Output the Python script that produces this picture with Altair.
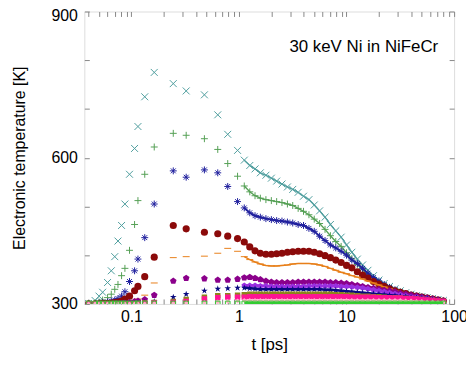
import altair as alt
import pandas as pd

# ---------------- data ----------------
T = [0.040, 0.046, 0.050, 0.054, 0.060, 0.065, 0.070, 0.075, 0.081, 0.087, 0.096,
     0.107, 0.115, 0.133, 0.163, 0.245, 0.323, 0.477, 0.635, 0.786, 0.970, 1.12,
     1.26, 1.41, 1.58, 1.78, 2.00, 2.24, 2.51, 2.82, 3.16, 3.55, 3.98, 4.47, 5.01,
     5.62, 6.31, 7.08, 7.94, 8.91, 10.0, 11.2, 12.6, 14.1, 15.8, 17.8, 20.0, 22.4,
     25.1, 28.2, 31.6, 35.5, 39.8, 44.7, 50.1, 56.2, 63.1, 70.8, 79.4]

TEAL_X = [301, 307, 316, 324, 344, 368, 397, 429, 461, 505, 566, 619, 664, 725, 775, 752, 737, 729, 688, 648, 615, 595,
          584, 577, 569, 564, 558, 552, 546, 540, 535, 529, 521, 514, 503, 491, 478, 463, 450, 437, 421, 406, 392,
          380, 369, 358, 349, 342, 336, 331, 327, 323, 320, 317, 315, 313, 311, 309, 307]
GREEN_PLUS = [300, 302, 304, 308, 313, 320, 330, 340, 358, 373, 410, 463, 512, 566, 622, 650, 646, 639, 617, 588, 562, 542,
              530, 522, 517, 514, 512, 510, 508, 505, 502, 496, 490, 483, 474, 465, 453, 440, 428, 418, 405, 393, 381,
              370, 360, 351, 344, 338, 333, 328, 325, 321, 318, 316, 314, 312, 310, 308, 306]
BLUE_STAR = [300, 301, 302, 303, 304, 306, 308, 311, 316, 325, 346, 368, 392, 436, 505, 573, 560, 575, 569, 541, 510, 497,
             487, 481, 478, 475, 473, 471, 470, 468, 466, 463, 461, 455, 449, 439, 430, 421, 415, 408, 400, 390, 383,
             373, 363, 354, 347, 340, 334, 329, 324, 321, 318, 316, 314, 312, 310, 308, 306]
RED_BALL = [300, 300, 300, 301, 301, 302, 303, 304, 306, 310, 316, 327, 336, 356, 396, 461, 454, 447, 444, 439, 434, 427,
            417, 409, 404, 402, 402, 403, 404, 406, 407, 408, 408, 408, 406, 403, 399, 395, 390, 385, 379, 374, 366,
            359, 353, 346, 341, 336, 331, 327, 324, 321, 318, 316, 314, 312, 310, 308, 306]
ORANGE_DASH = [300, 300, 300, 300, 301, 301, 301, 302, 302, 303, 304, 307, 310, 318, 343, 395, 397, 398, 404, 414, 408, 397,
               391, 386, 382, 379, 378, 378, 379, 380, 382, 383, 383, 383, 382, 380, 377, 373, 369, 365, 362, 358, 355,
               351, 347, 343, 339, 335, 331, 327, 324, 321, 318, 316, 314, 312, 310, 308, 306]
PURPLE_PENT = [300, 300, 300, 300, 300, 300, 301, 301, 301, 302, 303, 305, 306, 309, 318, 347, 353, 352, 349, 349, 351, 354,
               355, 353, 350, 347, 345, 344, 344, 344, 344, 345, 345, 345, 345, 345, 345, 344, 344, 343, 342, 340, 338,
               336, 334, 332, 330, 328, 327, 325, 322, 320, 318, 316, 314, 312, 310, 308, 306]
VIOLET = [None, None, None, None, None, None, None, None, None, None, None, None, None, None, None, None, None, None,
          None, None, None, 338,
          338, 338, 337, 337, 336, 336, 336, 336, 336, 336, 336, 337, 337, 337, 337, 337, 337, 336, 336, 335, 334,
          333, 331, 329, 327, 325, 323, 321, 319, 317, 315, 314, 312, 311, 309, 307, 305]
NAVY_STAR = [300, 300, 300, 300, 300, 300, 300, 300, 300, 300, 301, 301, 302, 303, 305, 314, 320, 327, 331, 332, 333, 333,
             332, 331, 330, 330, 330, 330, 330, 330, 330, 330, 330, 330, 330, 330, 329, 329, 328, 327, 326, 325, 324,
             323, 322, 321, 320, 319, 318, 317, 316, 315, 314, 313, 312, 311, 309, 307, 305]
OLIVE = [300, 300, 300, 300, 300, 300, 300, 300, 300, 300, 300, 300, 301, 302, 303, 305, 309, 314, 317, 317, 318, 319,
         320, 320, 320, 320, 320, 320, 320, 320, 320, 320, 320, 320, 320, 320, 320, 320, 319, 319, 318, 318, 317,
         316, 316, 315, 315, 314, 313, 313, 312, 311, 310, 310, 309, 308, 307, 306, 305]
PINK = [300, 300, 300, 300, 300, 300, 300, 300, 300, 300, 300, 300, 300, 301, 302, 303, 305, 310, 313, 314, 314, 314,
        315, 315, 315, 315, 315, 315, 315, 315, 315, 315, 315, 315, 315, 315, 315, 315, 315, 315, 315, 314, 314,
        314, 314, 314, 313, 313, 313, 312, 312, 311, 311, 310, 309, 308, 307, 306, 305]
LIGHT_PINK = [300, 300, 300, 300, 300, 300, 300, 300, 300, 300, 300, 300, 300, 300, 301, 301, 302, 303, 304, 305, 306, 307,
              307, 307, 307, 307, 307, 307, 307, 307, 307, 307, 307, 307, 307, 307, 307, 307, 307, 307, 307, 307, 307,
              307, 307, 307, 307, 307, 307, 307, 307, 306, 306, 305, 305, 304, 304, 303, 303]
GREEN_BASE = [301, 301, 301, 301, 301, 301, 301, 301, 301, 301, 301, 301, 301, 301, 301, 301, 301, 301, 301, 301, 301, 301,
              301, 301, 301, 301, 301, 301, 301, 301, 301, 301, 301, 301, 301, 301, 301, 301, 301, 301, 301, 301, 301,
              301, 301, 301, 301, 301, 301, 301, 301, 301, 301, 301, 301, 301, 301, 301, 301]

X_TICKS = [0.04, 0.05, 0.06, 0.07, 0.08, 0.09, 0.1, 0.2, 0.3, 0.4, 0.5, 0.6, 0.7, 0.8, 0.9,
           1, 2, 3, 4, 5, 6, 7, 8, 9, 10, 20, 30, 40, 50, 60, 70, 80, 90, 100]
Y_TICKS = [300, 400, 500, 600, 700, 800, 900]
ANNOTATION = "30 keV Ni in NiFeCr"

# ---------------- marker shapes ----------------
X_PATH = "M-1,-1L1,1M-1,1L1,-1"
PLUS_PATH = "M-1,0L1,0M0,-1L0,1"
AST_PATH = "M-1,0L1,0M0,-1L0,1M-0.7,-0.7L0.7,0.7M-0.7,0.7L0.7,-0.7"
DASH_PATH = "M-1,0L1,0"
PENT_PATH = "M0,-1L0.951,-0.309L0.588,0.809L-0.588,0.809L-0.951,-0.309Z"
STAR_PATH = ("M0,-1L0.225,-0.309L0.951,-0.309L0.363,0.118L0.588,0.809L0,0.382"
             "L-0.588,0.809L-0.363,0.118L-0.951,-0.309L-0.225,-0.309Z")

# name, values, colour, shape, filled, size, line width
SERIES = [
    ("teal", TEAL_X, "#4f9e9e", X_PATH, False, 49, 1.4),
    ("green", GREEN_PLUS, "#55a055", PLUS_PATH, False, 49, 1.4),
    ("blue", BLUE_STAR, "#20209e", AST_PATH, False, 49, 2.0),
    ("red", RED_BALL, "#8b0a0a", "circle", True, 52, 2.0),
    ("orange", ORANGE_DASH, "#e8801a", DASH_PATH, False, 49, 1.5),
    ("purple", PURPLE_PENT, "#8b008b", PENT_PATH, True, 49, 3.0),
    ("violet", VIOLET, "#9a30e0", PENT_PATH, True, 36, 3.0),
    ("navy", NAVY_STAR, "#0a0a80", STAR_PATH, True, 49, 2.5),
    ("olive", OLIVE, "#8c8418", "square", True, 30, 3.0),
    ("pink", PINK, "#ff1493", "square", True, 30, 3.5),
    ("lightpink", LIGHT_PINK, "#ffb0c8", "diamond", True, 25, 2.0),
    ("greenbase", GREEN_BASE, "#33cc33", "square", False, 22, 3.5),
]

FONT = "Liberation Sans"
XSCALE = alt.Scale(type="log", domain=[0.0365, 100])
YSCALE = alt.Scale(domain=[300, 900])
TICK = {"expr": "-5"}

frames = []
for name, vals, col, shp, filled, size, lw in SERIES:
    for t, v in zip(T, vals):
        if v is not None:
            frames.append({"t": t, "K": v, "s": name})
df = pd.DataFrame(frames)

layers = []
for name, vals, col, shp, filled, size, lw in SERIES:
    sub = df[df["s"] == name]
    late = sub[sub["t"] >= 1.1]
    layers.append(
        alt.Chart(late).mark_line(color=col, strokeWidth=lw, clip=True).encode(
            x=alt.X("t:Q", scale=XSCALE, axis=None),
            y=alt.Y("K:Q", scale=YSCALE, axis=None),
        )
    )
    if filled:
        mk = alt.Chart(sub).mark_point(shape=shp, filled=True, color=col, size=size, opacity=1, clip=True)
    else:
        mk = alt.Chart(sub).mark_point(shape=shp, filled=False, color=col, size=size, strokeWidth=1,
                                       opacity=1, clip=True)
    layers.append(
        mk.encode(
            x=alt.X("t:Q", scale=XSCALE, axis=None),
            y=alt.Y("K:Q", scale=YSCALE, axis=None),
        )
    )

x_label_expr = ("datum.value == 0.1 ? '0.1' : datum.value == 1 ? '1' : "
                "datum.value == 10 ? '10' : datum.value == 100 ? '100' : ''")

bottom_left = alt.Chart(df).mark_point(opacity=0).encode(
    x=alt.X("t:Q", scale=XSCALE, axis=alt.Axis(
        orient="bottom", values=X_TICKS, labelExpr=x_label_expr, tickSize=TICK,
        labelPadding=10, domain=False, grid=False, labelFlush=False, labelOverlap=False,
        title="t [ps]", titlePadding=12, titleFontSize=17, labelFontSize=16,
        titleFontWeight="normal")),
    y=alt.Y("K:Q", scale=YSCALE, axis=alt.Axis(
        orient="left", values=Y_TICKS,
        labelExpr="datum.value % 300 == 0 ? datum.label : ''",
        labelOffset={"condition": {"test": "datum.value == 900", "value": 4}, "value": 0},
        tickSize=TICK, labelPadding=12, domain=False, grid=False, labelFlush=False,
        labelOverlap=False, title="Electronic temperature [K]", titlePadding=24,
        titleFontSize=16, labelFontSize=16, titleFontWeight="normal")),
)

top_right = alt.Chart(df).mark_point(opacity=0).encode(
    x=alt.X("t:Q", scale=XSCALE, axis=alt.Axis(
        orient="top", values=X_TICKS, labels=False, tickSize=TICK, domain=False,
        grid=False, title=None)),
    y=alt.Y("K:Q", scale=YSCALE, axis=alt.Axis(
        orient="right", values=Y_TICKS, labels=False, tickSize=TICK, domain=False,
        grid=False, title=None)),
)

note = alt.Chart(pd.DataFrame({"label": [ANNOTATION]})).mark_text(
    align="right", baseline="middle", fontSize=17, font=FONT, color="black"
).encode(x=alt.value(357), y=alt.value(36), text="label:N")

chart = alt.layer(*layers, bottom_left, top_right, note).resolve_axis(
    x="independent", y="independent"
).properties(
    width=373, height=295,
    autosize=alt.AutoSizeParams(type="none"),
    padding={"left": 77, "top": 2, "right": 12, "bottom": 51},
).configure_view(
    stroke="black", strokeWidth=1.4
).configure_axis(
    labelFont=FONT, titleFont=FONT, labelColor="black", titleColor="black",
    tickColor="black", tickWidth=1
).configure(background="white")

chart.save("out.html", embed_options={"renderer": "svg", "actions": False})
